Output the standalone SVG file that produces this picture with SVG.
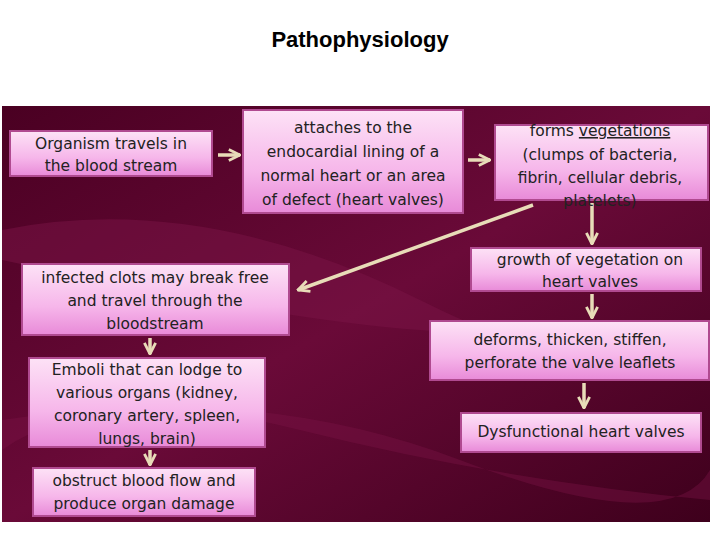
<svg xmlns="http://www.w3.org/2000/svg" width="720" height="540" viewBox="0 0 720 540">
<defs>
<linearGradient id="bx" x1="0" y1="0" x2="0" y2="1"><stop offset="0" stop-color="#fde2f6"/><stop offset="0.6" stop-color="#f6b6ea"/><stop offset="1" stop-color="#e88ad8"/></linearGradient>
<linearGradient id="bg" x1="0" y1="0" x2="1" y2="1"><stop offset="0" stop-color="#4a0022"/><stop offset="0.5" stop-color="#6a0a38"/><stop offset="1" stop-color="#3e001c"/></linearGradient>
<marker id="ah" viewBox="0 0 10 10" refX="9" refY="5" markerWidth="4" markerHeight="4" orient="auto"><path d="M1 1 L9 5 L1 9" fill="none" stroke="#e8dcb8" stroke-width="2"/></marker>
</defs>
<style>
.b{fill:url(#bx);stroke:#b04a90;stroke-width:2}
.t{font-family:"DejaVu Sans",sans-serif;font-size:15.5px;fill:#222;text-anchor:middle}
.c{stroke:#e8dcb8;stroke-width:3.5;fill:none;marker-end:url(#ah)}
</style>
<rect width="720" height="540" fill="#fff"/>
<text x="360" y="47" font-family="Liberation Sans,sans-serif" font-size="22" font-weight="bold" text-anchor="middle" fill="#000">Pathophysiology</text>
<rect x="2" y="106" width="708" height="416" fill="url(#bg)"/>
<path d="M2 230 Q200 190 420 300 T710 330 L710 360 Q560 340 420 330 T2 260Z" fill="#7a1446" opacity="0.5"/>
<path d="M2 420 Q250 380 460 460 T710 470 L710 500 Q500 480 300 430 T2 450Z" fill="#7a1446" opacity="0.4"/>
<g id="connectors">
<path class="c" d="M218 155 H240"/>
<path class="c" d="M468 160 H490"/>
<path class="c" d="M533 205 L298 290"/>
<path class="c" d="M592 203 V244"/>
<path class="c" d="M592 294 V318"/>
<path class="c" d="M584 383 V408"/>
<path class="c" d="M150 338 V354"/>
<path class="c" d="M150 450 V465"/>
</g>
<g id="n1"><rect class="b" x="10" y="131" width="202" height="45"/><text class="t" x="111" y="149">Organism travels in</text><text class="t" x="111" y="171">the blood stream</text></g>
<g id="n2"><rect class="b" x="243" y="110" width="220" height="103"/><text class="t" x="353" y="133">attaches to the</text><text class="t" x="353" y="157">endocardial lining of a</text><text class="t" x="353" y="181">normal heart or an area</text><text class="t" x="353" y="205">of defect (heart valves)</text></g>
<g id="n3"><rect class="b" x="495" y="125" width="213" height="75"/><text class="t" x="600" y="136">forms <tspan text-decoration="underline">vegetations</tspan></text><text class="t" x="600" y="160">(clumps of bacteria,</text><text class="t" x="600" y="183">fibrin, cellular debris,</text><text class="t" x="600" y="206">platelets)</text></g>
<g id="n4"><rect class="b" x="22" y="264" width="267" height="71"/><text class="t" x="155" y="283">infected clots may break free</text><text class="t" x="155" y="306">and travel through the</text><text class="t" x="155" y="329">bloodstream</text></g>
<g id="n5"><rect class="b" x="471" y="248" width="230" height="43"/><text class="t" x="590" y="265">growth of vegetation on</text><text class="t" x="590" y="287">heart valves</text></g>
<g id="n6"><rect class="b" x="430" y="321" width="279" height="59"/><text class="t" x="570" y="345">deforms, thicken, stiffen,</text><text class="t" x="570" y="368">perforate the valve leaflets</text></g>
<g id="n7"><rect class="b" x="461" y="413" width="240" height="39"/><text class="t" x="581" y="437">Dysfunctional heart valves</text></g>
<g id="n8"><rect class="b" x="29" y="358" width="236" height="89"/><text class="t" x="147" y="375">Emboli that can lodge to</text><text class="t" x="147" y="398">various organs (kidney,</text><text class="t" x="147" y="421">coronary artery, spleen,</text><text class="t" x="147" y="444">lungs, brain)</text></g>
<g id="n9"><rect class="b" x="33" y="468" width="222" height="48"/><text class="t" x="144" y="486">obstruct blood flow and</text><text class="t" x="144" y="509">produce  organ damage</text></g>
</svg>
